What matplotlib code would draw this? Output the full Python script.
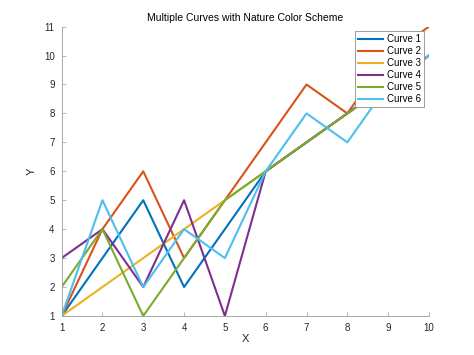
import numpy as np
import matplotlib.pyplot as plt

plt.rcParams['font.family'] = ['Liberation Sans', 'DejaVu Sans']

# data
x = np.arange(1, 11)
curve1 = [1, 3, 5, 2, 4, 6, 7, 8, 9, 10]
curve2 = [1, 4, 6, 3, 5, 7, 9, 8, 10, 11]
curve3 = [1, 2, 3, 4, 5, 6, 7, 8, 9, 10]
curve4 = [3, 4, 2, 5, 1, 6, 7, 8, 9, 10]
curve5 = [2, 4, 1, 3, 5, 6, 7, 8, 9, 10]
curve6 = [1, 5, 2, 4, 3, 6, 8, 7, 9, 10]
curves = [curve1, curve2, curve3, curve4, curve5, curve6]
labels = ["Curve 1", "Curve 2", "Curve 3", "Curve 4", "Curve 5", "Curve 6"]
colors = ["#0072BD", "#D95319", "#EDB120", "#7E2F8E", "#77AC30", "#4DBEEE"]

fig = plt.figure(figsize=(4.74, 3.55), dpi=100)
ax = fig.add_axes([0.13, 0.11, 0.775, 0.815])

for y, lab, c in zip(curves, labels, colors):
    ax.plot(x, y, color=c, linewidth=1.5, label=lab)

ax.set_xlim(1, 10)
ax.set_ylim(1, 11)
ax.set_xticks(range(1, 11))
ax.set_yticks(range(1, 12))
ax.tick_params(direction='in', length=3, width=0.5, labelsize=7, colors='#262626',
               pad=5)
ax.tick_params(color='#999999')
ax.spines['top'].set_visible(False)
ax.spines['right'].set_visible(False)
for s in ['left', 'bottom']:
    ax.spines[s].set_linewidth(0.6)
    ax.spines[s].set_color('#999999')

ax.set_xlabel("X", fontsize=8, labelpad=1, color='#262626')
ax.set_ylabel("Y", fontsize=8, labelpad=5, color='#262626')
ax.set_title("Multiple Curves with Nature Color Scheme", fontsize=7.5, pad=4)

leg = ax.legend(loc='upper right', fontsize=7, fancybox=False, framealpha=1,
                edgecolor='#8c8c8c', borderpad=0.3, labelspacing=0.2,
                handlelength=2.6, handletextpad=0.4, borderaxespad=0.5)
leg.get_frame().set_linewidth(0.6)

plt.savefig("out.png", dpi=100)
